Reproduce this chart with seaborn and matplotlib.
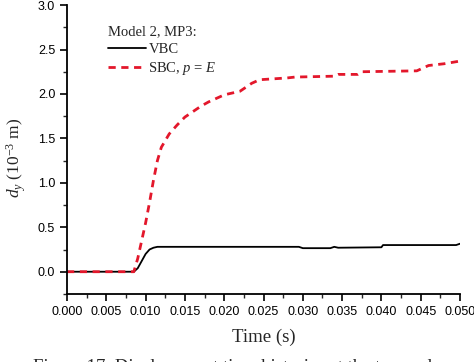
import numpy as np
import pandas as pd
import matplotlib
matplotlib.use("Agg")
import matplotlib.pyplot as plt
from matplotlib.ticker import MultipleLocator
import seaborn as sns

# values
vbc_time = [0.0, 0.0085, 0.0090, 0.0095, 0.0100, 0.0105, 0.0110, 0.0115, 0.0295,
            0.0300, 0.0335, 0.0340, 0.0345, 0.0400, 0.0402, 0.0495, 0.0500]
vbc_disp = [0.0, 0.0, 0.04, 0.12, 0.20, 0.25, 0.27, 0.28, 0.28,
            0.265, 0.265, 0.28, 0.27, 0.275, 0.30, 0.30, 0.315]

sbc_time = [0.0, 0.0085, 0.0090, 0.0095, 0.0100, 0.0105, 0.0110, 0.0115, 0.0120,
            0.0130, 0.0140, 0.0150, 0.0160, 0.0170, 0.0180, 0.0190, 0.0200,
            0.0210, 0.0220, 0.0235, 0.0245, 0.0280, 0.0290, 0.0340, 0.0345,
            0.0370, 0.0375, 0.0445, 0.0460, 0.0480, 0.0500]
sbc_disp = [0.0, 0.0, 0.15, 0.35, 0.55, 0.78, 1.03, 1.25, 1.40,
            1.55, 1.65, 1.74, 1.80, 1.86, 1.91, 1.95, 1.99,
            2.01, 2.03, 2.12, 2.16, 2.18, 2.19, 2.20, 2.22,
            2.22, 2.25, 2.26, 2.32, 2.34, 2.37]

vbc = pd.DataFrame({"t": vbc_time, "d": vbc_disp})
sbc = pd.DataFrame({"t": sbc_time, "d": sbc_disp})

sns.set_style("ticks")
plt.rcParams["font.family"] = ["Liberation Sans", "DejaVu Sans"]
plt.rcParams["mathtext.fontset"] = "custom"
plt.rcParams["mathtext.rm"] = "Liberation Serif"
plt.rcParams["mathtext.it"] = "Liberation Serif:italic"

fig = plt.figure(figsize=(4.74, 3.62), dpi=100)
ax = fig.add_axes([0.1414, 0.188, 0.8291, 0.798])

sns.lineplot(data=vbc, x="t", y="d", ax=ax, color="black", lw=1.3,
             label="VBC")
sns.lineplot(data=sbc, x="t", y="d", ax=ax, color="#e3172b", lw=2.0,
             linestyle=(0, (2.6, 2.0)), label="SBC, $p$ = $E$")

ax.set_xlim(0, 0.05)
ax.set_ylim(-0.25, 3.0)
ax.xaxis.set_major_locator(MultipleLocator(0.005))
ax.xaxis.set_minor_locator(MultipleLocator(0.0025))
ax.yaxis.set_major_locator(MultipleLocator(0.5))
ax.yaxis.set_minor_locator(MultipleLocator(0.25))
ax.set_xticklabels([f"{v:.3f}" for v in ax.get_xticks()])
ax.set_yticklabels([f"{v:.1f}" for v in ax.get_yticks()])
ax.tick_params(which="major", length=5, width=1.2, labelsize=9, colors="black")
ax.tick_params(which="minor", length=3, width=1.0)
for s in ["left", "bottom"]:
    ax.spines[s].set_linewidth(1.3)
    ax.spines[s].set_color("black")
sns.despine(ax=ax)

ax.set_xlabel("Time (s)", fontsize=13.5, family="Liberation Serif", labelpad=8)
ax.set_ylabel("$d_y$ (10$^{-3}$ m)", fontsize=12.5, family="Liberation Serif")
ax.yaxis.set_label_coords(-0.10, 0.47)

leg = ax.legend(title="Model 2, MP3:", loc="upper left", bbox_to_anchor=(0.07, 0.975),
                frameon=False, handlelength=2.6, handletextpad=0.2,
                labelspacing=0.3, alignment="left",
                prop={"family": "Liberation Serif", "size": 10.5},
                title_fontproperties={"family": "Liberation Serif", "size": 10.5})

fig.text(0.5, 0.009, "Figure 17. Displacement time histories at the top node",
         ha="center", va="top", fontsize=13.5, family="Liberation Serif")

fig.savefig("out.png", dpi=100)
